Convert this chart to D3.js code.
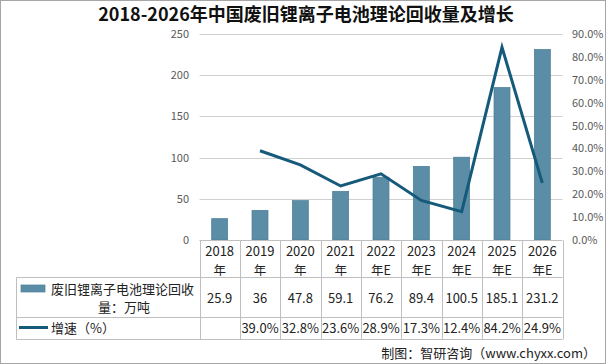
<!DOCTYPE html>
<html><head><meta charset="utf-8">
<script src="https://cdn.jsdelivr.net/npm/d3@7/dist/d3.min.js"></script>
<style>body{margin:0;background:#fff}svg{display:block}text{font-family:"Noto Sans CJK SC","Noto Sans",sans-serif}</style>
</head><body>
<script>
const years = ["2018","2019","2020","2021","2022","2023","2024","2025","2026"];
const yearSuffix = ["年","年","年","年","年E","年E","年E","年E","年E"];
const recovery = [25.9,36,47.8,59.1,76.2,89.4,100.5,185.1,231.2];
const growth = [null,39.0,32.8,23.6,28.9,17.3,12.4,84.2,24.9];
const leftTicks = [0,50,100,150,200,250];
const rightTicks = [0,10,20,30,40,50,60,70,80,90];
const title = "2018-2026年中国废旧锂离子电池理论回收量及增长";
const seriesNames = ["废旧锂离子电池理论回收","量：万吨","增速（%）"];
const footer = "制图：智研咨询（www.chyxx.com）";

const W=606,H=364;
const svg=d3.select("body").append("svg").attr("width",W).attr("height",H);
svg.append("rect").attr("x",0.5).attr("y",0.5).attr("width",W-1).attr("height",H-1).attr("fill","#fff").attr("stroke","#a6a6a6");

const x=d3.scaleBand().domain(years).range([199.5,562.5]).padding(0);
const yL=d3.scaleLinear().domain([0,250]).range([240,34]);
const yR=d3.scaleLinear().domain([0,90]).range([240,34]);
const barColor="#5b8ea6", lineColor="#165a7b", grid="#d0d0d0", tc="#595959";

// title
svg.append("text").attr("x",306).attr("y",20.5).attr("text-anchor","middle").attr("font-size",18).attr("font-weight","bold").attr("fill","#111").text(title);

// gridlines
svg.append("g").selectAll("line").data(leftTicks.filter(d=>d>0)).join("line")
  .attr("x1",199.5).attr("x2",562.5).attr("y1",d=>Math.round(yL(d))+0.5).attr("y2",d=>Math.round(yL(d))+0.5)
  .attr("stroke",grid);

// left axis
const gl=svg.append("g").attr("transform","translate(189,0)").call(d3.axisLeft(yL).tickValues(leftTicks).tickSize(0).tickPadding(0));
gl.select(".domain").remove();
gl.selectAll("text").attr("font-size",11).attr("fill",tc).attr("font-family","'Liberation Sans',sans-serif");
// right axis
const gr=svg.append("g").attr("transform","translate(572,0)").call(d3.axisRight(yR).tickValues(rightTicks).tickSize(0).tickPadding(0).tickFormat(d=>d.toFixed(1)+"%"));
gr.select(".domain").remove();
gr.selectAll("text").attr("font-size",11).attr("fill",tc).attr("font-family","'Liberation Sans',sans-serif");

// bars
const bw=16;
svg.append("g").selectAll("rect").data(recovery).join("rect")
  .attr("x",(d,i)=>x(years[i])+x.bandwidth()/2-bw/2).attr("width",bw)
  .attr("y",d=>yL(d)).attr("height",d=>240-yL(d))
  .attr("fill",barColor).attr("stroke","#4a7d95").attr("stroke-width",0.7);

// line
const pts=growth.map((d,i)=>({d,i})).filter(p=>p.d!=null);
svg.append("path").datum(pts).attr("fill","none").attr("stroke",lineColor).attr("stroke-width",3).attr("stroke-linejoin","miter")
  .attr("d",d3.line().x(p=>x(years[p.i])+x.bandwidth()/2).y(p=>yR(p.d)));

// table
const tb="#bfbfbf";
const tg=svg.append("g");
const rowY=[240.5,277.5,317.5,339.5];
tg.append("line").attr("x1",199.5).attr("x2",562.5).attr("y1",rowY[0]).attr("y2",rowY[0]).attr("stroke",tb);
[1,2,3].forEach(k=>tg.append("line").attr("x1",16.5).attr("x2",562.5).attr("y1",rowY[k]).attr("y2",rowY[k]).attr("stroke",tb));
tg.append("line").attr("x1",16.5).attr("x2",16.5).attr("y1",rowY[1]).attr("y2",rowY[3]).attr("stroke",tb);
const vx=years.map(y=>x(y)).concat([x(years[years.length-1])+x.bandwidth()]);
tg.selectAll(".v").data(vx).join("line").attr("x1",d=>Math.round(d)+0.5).attr("x2",d=>Math.round(d)+0.5)
  .attr("y1",rowY[0]).attr("y2",rowY[3]).attr("stroke",tb);

const cx=i=>x(years[i])+x.bandwidth()/2;
const txt=(g,xx,yy,s,anchor,fs,ff)=>{const t=g.append("text").attr("x",xx).attr("y",yy).attr("text-anchor",anchor||"middle").attr("font-size",fs||13).attr("fill","#222").text(s); if(ff) t.attr("font-family",ff); return t;};
years.forEach((y,i)=>{
  txt(tg,cx(i),256,y,"middle",13,"'Liberation Sans',sans-serif");
  txt(tg,cx(i),275,yearSuffix[i],"middle",12.5);
  txt(tg,cx(i),302.5,String(recovery[i]));
  if(growth[i]!=null) txt(tg,cx(i),333,growth[i].toFixed(1)+"%");
});
// legend
tg.append("rect").attr("x",21).attr("y",285).attr("width",24).attr("height",7).attr("fill",barColor).attr("stroke","#4a7d95").attr("stroke-width",0.7);
txt(tg,51,293.5,seriesNames[0],"start");
txt(tg,124,312,seriesNames[1]);
tg.append("line").attr("x1",19).attr("x2",48).attr("y1",327.5).attr("y2",327.5).attr("stroke",lineColor).attr("stroke-width",3);
txt(tg,51,333,seriesNames[2],"start");

// footer
svg.append("text").attr("x",596).attr("y",358).attr("text-anchor","end").attr("font-size",13).attr("fill","#222").text(footer);
</script>
</body></html>
